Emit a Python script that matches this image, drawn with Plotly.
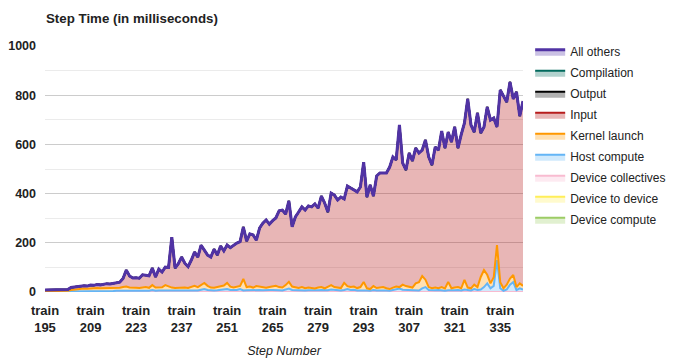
import plotly.graph_objects as go

steps = [f"train {s}" for s in range(195, 343)]
N = len(steps)

# Total step time (top of stack), ms
step_total = [
    8, 8, 9, 8, 9, 10, 9, 10, 18, 20,
    19, 22, 25, 24, 28, 27, 30, 29, 32, 34,
    33, 36, 38, 40, 55, 89, 65, 57, 58, 56,
    70, 68, 66, 97, 61, 93, 81, 101, 100, 223,
    97, 115, 142, 117, 103, 130, 162, 142, 190, 170,
    150, 142, 174, 150, 187, 167, 191, 180, 190, 199,
    205, 264, 207, 236, 232, 211, 260, 280, 293, 276,
    290, 301, 330, 333, 317, 370, 265, 305, 325, 346,
    333, 350, 346, 358, 341, 390, 362, 325, 402, 394,
    374, 386, 378, 431, 423, 415, 407, 427, 528, 386,
    435, 390, 472, 484, 484, 484, 508, 549, 537, 679,
    524, 496, 565, 533, 585, 565, 577, 618, 549, 516,
    589, 577, 654, 585, 650, 610, 671, 585, 640, 687,
    785, 679, 650, 728, 646, 671, 752, 699, 707, 671,
    821, 793, 772, 854, 785, 813, 715, 776,
]

host_compute = [
    1, 1, 1, 1, 1, 1, 1, 1, 2, 2,
    2, 2, 3, 3, 3, 3, 3, 4, 4, 4,
    4, 4, 5, 5, 6, 5, 4, 4, 5, 5,
    5, 6, 5, 8, 5, 6, 6, 8, 7, 6,
    5, 5, 6, 6, 5, 7, 8, 6, 9, 12,
    8, 6, 6, 7, 8, 9, 12, 8, 7, 8,
    12, 6, 7, 8, 7, 9, 8, 7, 6, 8,
    8, 9, 7, 6, 10, 14, 8, 7, 6, 7,
    6, 7, 6, 5, 7, 8, 6, 7, 10, 8,
    7, 6, 8, 12, 8, 9, 6, 7, 8, 6,
    5, 8, 6, 7, 8, 6, 5, 7, 10, 14,
    9, 8, 10, 8, 7, 6, 15, 20, 8, 6,
    7, 8, 6, 5, 7, 6, 7, 8, 6, 10,
    8, 6, 12, 8, 10, 20, 35, 15, 25, 130,
    15, 5, 10, 30, 40, 8, 15, 10,
]

# top of the kernel-launch band (host compute + kernel launch)
kernel_top = [
    3, 3, 3, 3, 4, 4, 4, 5, 8, 10,
    12, 12, 14, 13, 15, 14, 16, 15, 15, 16,
    17, 16, 18, 17, 20, 22, 18, 16, 17, 16,
    18, 20, 17, 28, 18, 20, 19, 28, 22, 18,
    16, 17, 20, 18, 16, 22, 25, 20, 30, 37,
    25, 18, 17, 20, 22, 26, 37, 22, 18, 20,
    25, 53, 20, 22, 18, 24, 22, 18, 17, 20,
    22, 25, 20, 18, 28, 41, 22, 18, 16, 20,
    15, 18, 16, 14, 18, 20, 15, 22, 28, 20,
    18, 16, 37, 24, 20, 22, 16, 20, 41, 15,
    12, 24, 16, 18, 20, 15, 12, 18, 22, 20,
    30, 24, 20, 18, 35, 40, 65, 50, 20, 15,
    18, 15, 20, 14, 41, 15, 18, 20, 15, 49,
    18, 15, 30, 20, 61, 89, 70, 35, 60, 191,
    40, 15, 30, 55, 69, 20, 35, 25,
]
kernel_launch = [t - h for t, h in zip(kernel_top, host_compute)]

device_compute = [0] * N
device_to_device = [0] * N
device_collectives = [0] * N
output = [0] * N
compilation = [0] * N
all_others = [0] * N
input_time = [tot - kt for tot, kt in zip(step_total, kernel_top)]

# bottom -> top stacking order
series = [
    ("Device compute", device_compute, "#9ccc65", "rgba(156,204,101,0.3)", 2),
    ("Device to device", device_to_device, "#ffee58", "rgba(255,238,88,0.3)", 2),
    ("Device collectives", device_collectives, "#f8bbd0", "rgba(248,187,208,0.3)", 2),
    ("Host compute", host_compute, "#64b5f6", "rgba(100,181,246,0.3)", 2),
    ("Kernel launch", kernel_launch, "#ff9800", "rgba(255,152,0,0.3)", 2),
    ("Input", input_time, "#b71c1c", "rgba(183,28,28,0.32)", 2),
    ("Output", output, "#000000", "rgba(0,0,0,0.3)", 2),
    ("Compilation", compilation, "#00695c", "rgba(0,105,92,0.3)", 2),
    ("All others", all_others, "#5133a4", "rgba(81,51,164,0.3)", 3),
]

fig = go.Figure()
for k, (name, vals, lc, fc, w) in enumerate(series):
    fig.add_trace(go.Scatter(
        x=steps, y=vals, name=name, mode="lines", legendgroup=name,
        legendrank=1000 - k,
        stackgroup="one", line=dict(color=lc, width=w),
        fillcolor=fc, hoverinfo="skip",
    ))

# page has an 8px body margin, so the figure is 670x356 drawn at (8, 8)
W, H = 670, 356
tick_idx = list(range(0, N, 14))
fig.update_layout(
    width=W, height=H,
    margin=dict(l=37, r=155, t=38, b=72, autoexpand=False),
    paper_bgcolor="white", plot_bgcolor="white",
    font=dict(family="Liberation Sans, Arial, sans-serif", size=12, color="#222"),
    title=dict(text="<b>Step Time (in milliseconds)</b>", x=38 / W, xanchor="left",
               y=1 - 10 / H, yanchor="middle", font=dict(size=13.3, color="#222")),
    showlegend=True,
    legend=dict(traceorder="grouped", x=1.015, xanchor="left", y=1.036, yanchor="top",
                font=dict(size=12, color="#222"), itemwidth=30, tracegroupgap=2,
                maxheight=300, bgcolor="rgba(0,0,0,0)"),
    xaxis=dict(
        type="category", range=[0, N - 1], automargin=False,
        tickvals=[steps[i] for i in tick_idx],
        ticktext=[f"train<br>{195 + i}" for i in tick_idx],
        showgrid=False, zeroline=False, showline=False, ticks="",
        ticklabelstandoff=9,
        tickfont=dict(size=13, color="#222", weight="bold"),
        title=dict(text="<i>Step Number</i>", font=dict(size=12.5, color="#222"), standoff=12),
    ),
    yaxis=dict(
        range=[0, 1000], tickvals=[0, 200, 400, 600, 800, 1000], automargin=False,
        showgrid=True, gridcolor="#cccccc", gridwidth=1,
        minor=dict(dtick=100, showgrid=True, gridcolor="#ebebeb", gridwidth=1),
        zeroline=False, showline=False, ticks="", ticklabelstandoff=8,
        tickfont=dict(size=12.5, color="#222", weight="bold"),
    ),
)

fig.write_html("out.html")
